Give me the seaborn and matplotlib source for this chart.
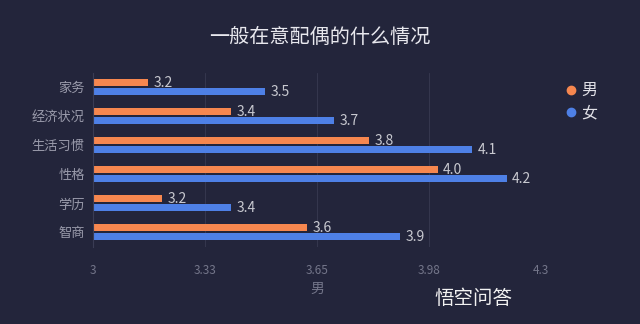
import matplotlib
matplotlib.use("Agg")
import matplotlib.pyplot as plt
import seaborn as sns
import pandas as pd
from matplotlib.lines import Line2D

categories = ["家务", "经济状况", "生活习惯", "性格", "学历", "智商"]
male = [3.16, 3.4, 3.8, 4.0, 3.2, 3.62]
female = [3.5, 3.7, 4.1, 4.2, 3.4, 3.89]
series = ["男", "女"]
xticks = [3, 3.325, 3.65, 3.975, 4.3]
xtick_labels = ["3", "3.33", "3.65", "3.98", "4.3"]
title = "一般在意配偶的什么情况"

bg = "#23253b"
c_male = "#f6874f"
c_female = "#4e80e6"

sns.set_theme(style="dark")
plt.rcParams["font.family"] = ["Noto Sans CJK SC", "DejaVu Sans"]

df = pd.DataFrame({
    "cat": categories * 2,
    "val": male + female,
    "sex": [series[0]] * len(categories) + [series[1]] * len(categories),
})

fig = plt.figure(figsize=(6.4, 3.24), dpi=100, facecolor=bg)
ax = fig.add_axes([93 / 640, 1 - 247 / 324, 448 / 640, 174.5 / 324])
ax.set_facecolor(bg)

sns.barplot(data=df, x="val", y="cat", hue="sex", orient="h",
            palette=[c_male, c_female], width=0.62, gap=0.22,
            saturation=1, legend=False, ax=ax, errorbar=None,
            linewidth=0, edgecolor="none")

for cont in ax.containers:
    ax.bar_label(cont, fmt="%.1f", padding=4, color="#c8c9d0", fontsize=10)

ax.set_xlim(3, 4.3)
ax.set_xticks(xticks)
ax.set_xticklabels(xtick_labels)
ax.tick_params(axis="x", colors="#74768a", labelsize=8.5, length=0, pad=12)
ax.tick_params(axis="y", colors="#9a9bab", labelsize=9.5, length=0, pad=6)
ax.grid(axis="x", color="#34364d", linewidth=0.8)
ax.grid(axis="y", visible=False)
for s in ["top", "right", "bottom"]:
    ax.spines[s].set_visible(False)
ax.spines["left"].set_color("#3a3c54")
ax.spines["left"].set_linewidth(0.8)

ax.set_ylabel("")
ax.set_xlabel("男", color="#74768a", fontsize=10, labelpad=4)

fig.text(0.5, 1 - 37 / 324, title, ha="center", va="center",
         color="#e8e8ee", fontsize=14.5)

handles = [Line2D([0], [0], marker="o", linestyle="", markersize=6,
                  markerfacecolor=c, markeredgecolor=c) for c in (c_male, c_female)]
leg = fig.legend(handles, series, loc="upper left",
                 bbox_to_anchor=(549 / 640, 1 - 68 / 324), frameon=False,
                 handletextpad=0.1, labelspacing=0.3, fontsize=11.5,
                 handlelength=1.0)
for t in leg.get_texts():
    t.set_color("#e0e0e6")

fig.text(512 / 640, 1 - 298 / 324, "悟空问答", ha="right", va="center",
         color="#f2f2f2", fontsize=14)

fig.savefig("out.png", dpi=100, facecolor=bg)
